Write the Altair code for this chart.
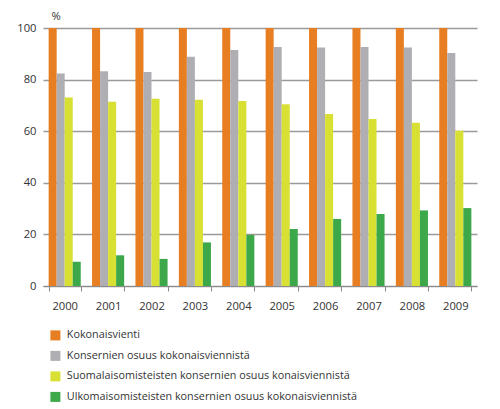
import altair as alt
import pandas as pd

years = [str(y) for y in range(2000, 2010)]
series = [
    "Kokonaisvienti",
    "Konsernien osuus kokonaisviennistä",
    "Suomalaisomisteisten konsernien osuus konaisviennistä",
    "Ulkomaisomisteisten konsernien osuus kokonaisviennistä",
]
kokonais = [100, 100, 100, 100, 100, 100, 100, 100, 100, 100]
konsernit = [82.4, 83.2, 82.9, 88.9, 91.5, 92.6, 92.4, 92.6, 92.4, 90.3]
suomalais = [73.1, 71.4, 72.6, 72.2, 71.7, 70.4, 66.7, 64.7, 63.3, 60.2]
ulkomais = [9.4, 11.9, 10.5, 16.9, 19.8, 22.1, 26.0, 27.9, 29.3, 30.2]
colors = ["#E87E22", "#AFAFB3", "#D9E034", "#3DA84A"]

rows = []
for name, vals in zip(series, [kokonais, konsernit, suomalais, ulkomais]):
    for yr, v in zip(years, vals):
        rows.append({"vuosi": yr, "sarja": name, "arvo": v})
df = pd.DataFrame(rows)

font = "Open Sans"

chart = alt.Chart(df).mark_bar().encode(
    x=alt.X("vuosi:N", title=None,
            scale=alt.Scale(paddingInner=0.26, paddingOuter=0.13),
            axis=alt.Axis(labelAngle=0, tickBand="extent", tickSize=5,
                          labelPadding=9, domainColor="#8a8a8a",
                          tickColor="#8a8a8a")),
    xOffset=alt.XOffset("sarja:N", sort=series),
    y=alt.Y("arvo:Q", scale=alt.Scale(domain=[0, 100]),
            axis=alt.Axis(values=[0, 20, 40, 60, 80, 100], title="%",
                          titleAngle=0, titleAlign="left", titleX=8,
                          titleY=-7, titleFontWeight="normal",
                          domain=False, ticks=False, labelPadding=7,
                          gridColor="#9a9a9a", gridWidth=1.5)),
    color=alt.Color("sarja:N", sort=series,
                    scale=alt.Scale(domain=series, range=colors),
                    legend=alt.Legend(title=None, orient="none", legendX=7,
                                      legendY=302, direction="vertical",
                                      symbolType="square", symbolSize=100,
                                      symbolStrokeWidth=0, rowPadding=8.5,
                                      labelFontSize=10.8, labelOffset=6,
                                      labelLimit=400)),
).properties(
    width=434,
    height=258,
    padding={"left": 35, "top": 20, "right": 15, "bottom": 120},
    autosize=alt.AutoSizeParams(type="none"),
).configure_axis(
    labelFont=font,
    titleFont=font,
    labelFontSize=11.2,
    titleFontSize=11.2,
    labelColor="#333",
    titleColor="#333",
).configure_legend(
    labelFont=font,
    labelColor="#333",
).configure_view(
    strokeWidth=0
)

chart.save("out.html", embed_options={"renderer": "svg", "actions": False})
